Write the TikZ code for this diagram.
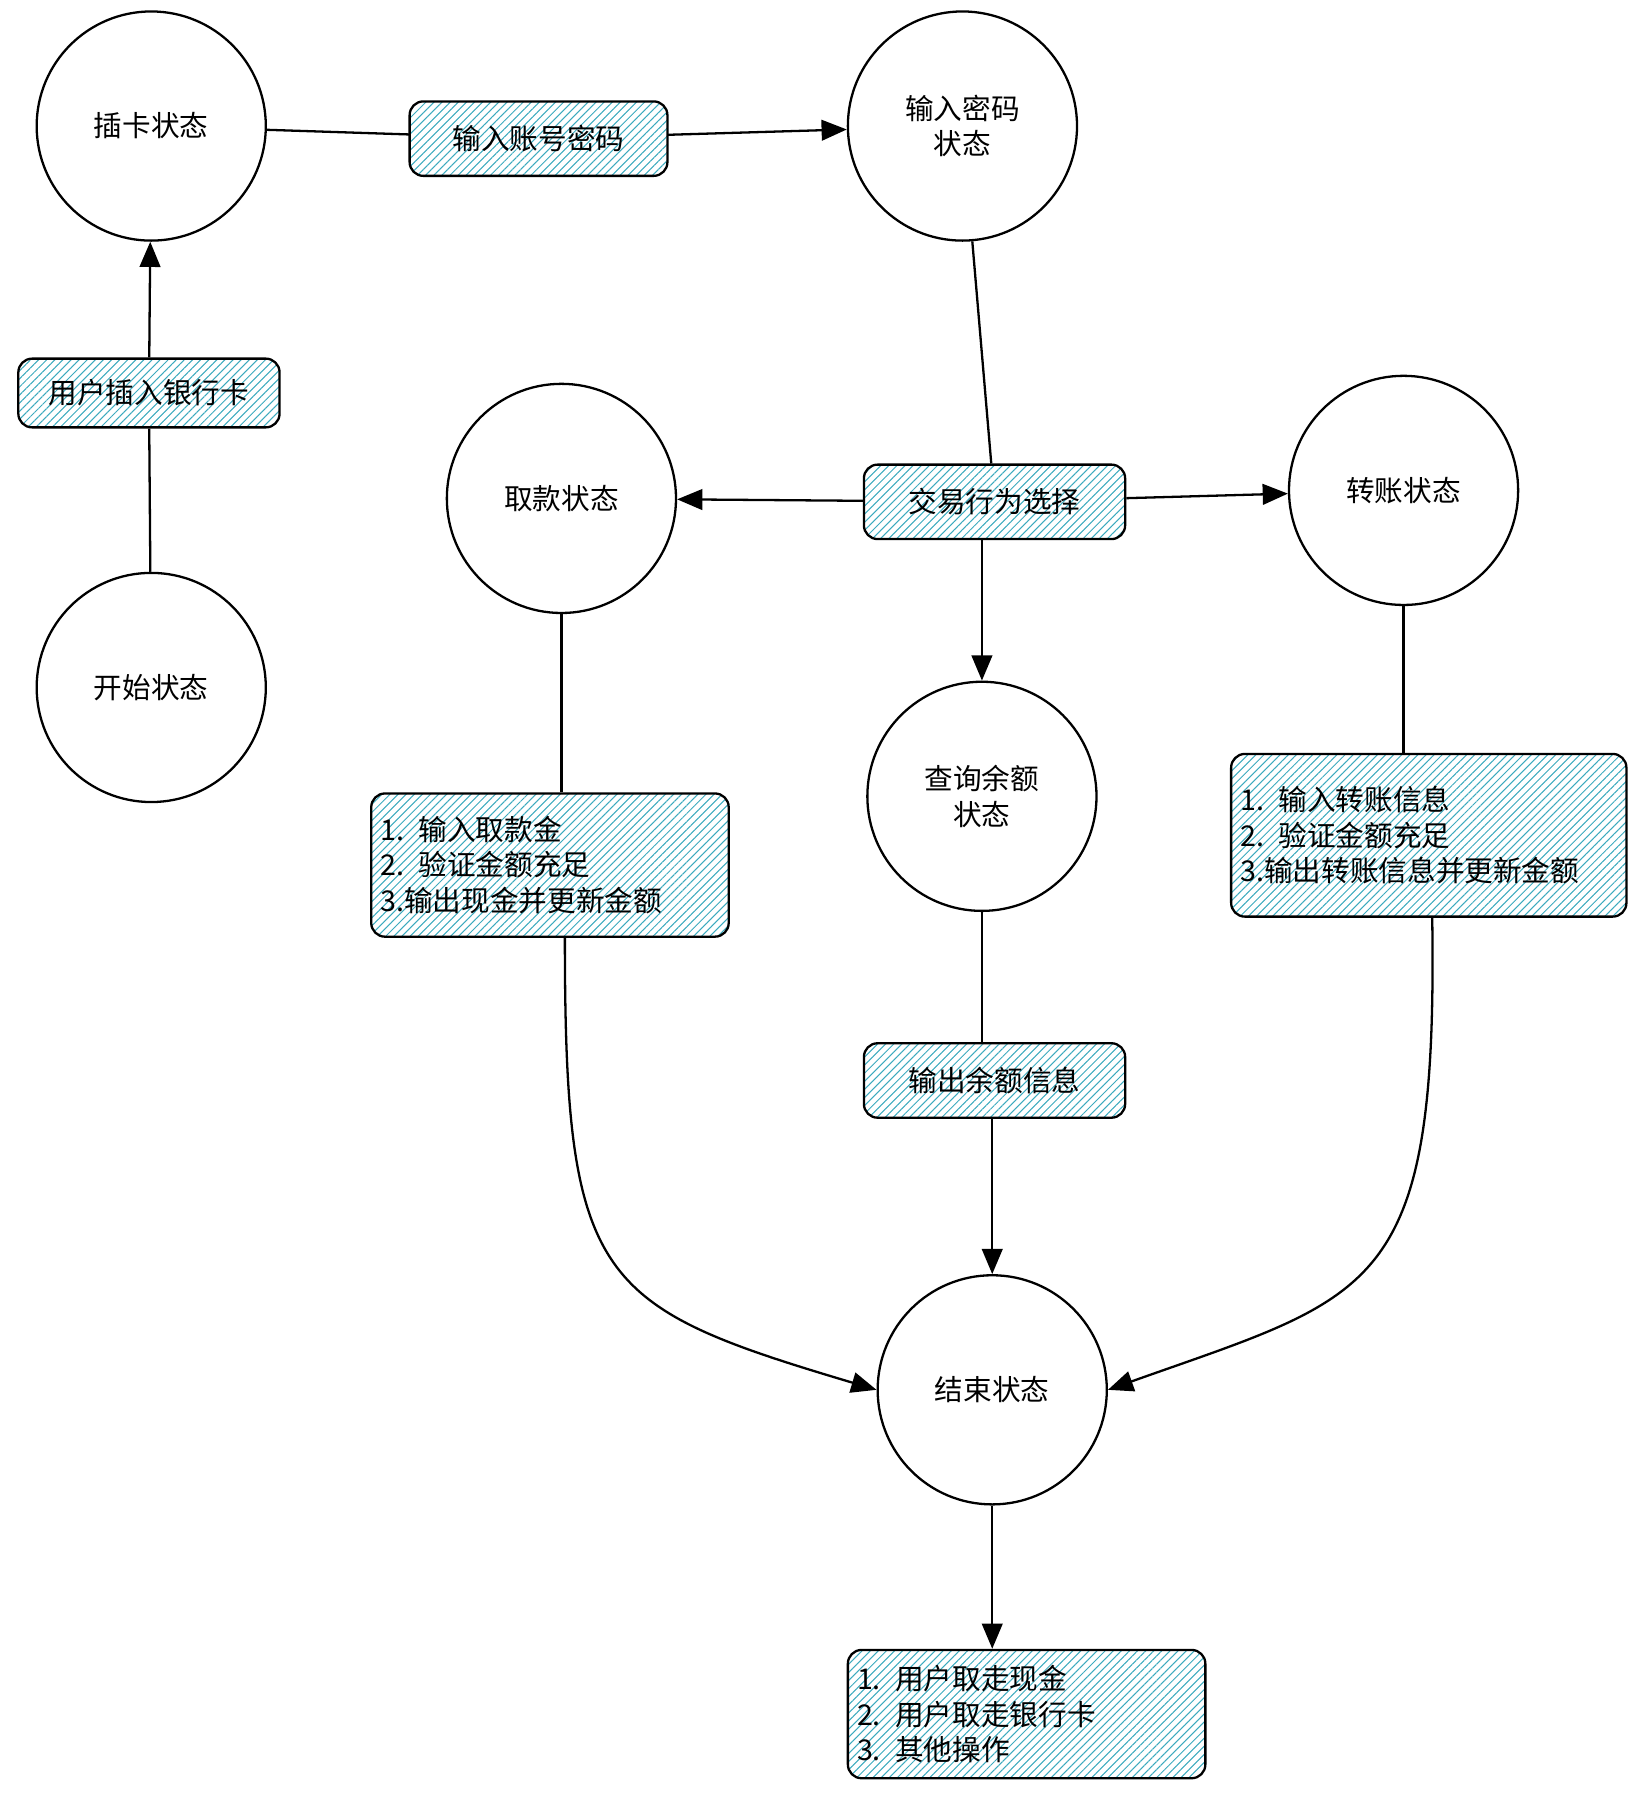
\documentclass[tikz,border=0pt]{standalone}
\usepackage{fontspec}
\setmainfont{Noto Sans CJK SC}
\usetikzlibrary{patterns.meta,arrows.meta}
\definecolor{hatch}{RGB}{60,170,190}
\tikzset{
 st/.style={circle,draw,line width=2pt,minimum size=200pt,inner sep=0pt,align=center,font=\fontsize{25}{31}\selectfont},
 bx/.style={draw,rounded corners=12pt,line width=2pt,pattern={Lines[angle=45,distance=5pt,line width=0.9pt]},pattern color=hatch,align=left,font=\fontsize{25}{31}\selectfont,inner xsep=8pt,inner ysep=6pt},
 ln/.style={line width=2pt},
 ar/.style={line width=2pt,-{Triangle[length=22pt,width=18pt]}}
}
\begin{document}
\begin{tikzpicture}[x=1pt,y=-1pt]
\useasboundingbox (0,0) rectangle (1440,1571);
\node[st] (ck) at (132,110) {插卡状态};
\node[st] (mm) at (840,110) {输入密码\\状态};
\node[st] (ks) at (132,600) {开始状态};
\node[st] (qk) at (490,435) {取款状态};
\node[st] (zz) at (1225,428) {转账状态};
\node[st] (cx) at (857,695) {查询余额\\状态};
\node[st] (js) at (866,1213) {结束状态};
\node[bx,minimum width=225pt,minimum height=65pt,align=center] (b1) at (470,121) {输入账号密码};
\node[bx,minimum width=228pt,minimum height=60pt,align=center] (b2) at (130,343) {用户插入银行卡};
\node[bx,minimum width=228pt,minimum height=65pt,align=center] (b3) at (868,438) {交易行为选择};
\node[bx,text width=296pt,minimum height=125pt] (b4) at (480,755) {1. 输入取款金\\2. 验证金额充足\\3.输出现金并更新金额};
\node[bx,text width=329pt,minimum height=142pt] (b5) at (1247,729) {1. 输入转账信息\\2. 验证金额充足\\3.输出转账信息并更新金额};
\node[bx,minimum width=228pt,minimum height=65pt,align=center] (b6) at (868,943) {输出余额信息};
\node[bx,text width=296pt,minimum height=112pt] (b7) at (896,1496) {1. 用户取走现金\\2. 用户取走银行卡\\3. 其他操作};
\draw[ln] (ks) -- (b2);
\draw[ar] (b2) -- (ck);
\draw[ln] (ck) -- (b1);
\draw[ar] (b1) -- (mm);
\draw[ln] (mm) -- (b3);
\draw[ar] (b3) -- (qk);
\draw[ar] (b3) -- (zz);
\draw[ar] (b3.south -| cx) -- (cx);
\draw[ln] (qk) -- (b4.north -| qk);
\draw[ln] (zz) -- (b5.north -| zz);
\draw[ln] (cx) -- (b6.north -| cx);
\draw[ar] (b6.south -| js) -- (js);
\draw[ar] (b4.south -| 493,0) .. controls (493,1120) and (520,1140) .. (js.west);
\draw[ar] (b5.south -| 1250,0) .. controls (1255,1130) and (1200,1130) .. (js.east);
\draw[ar] (js) -- (b7.north -| js);
\end{tikzpicture}
\end{document}
